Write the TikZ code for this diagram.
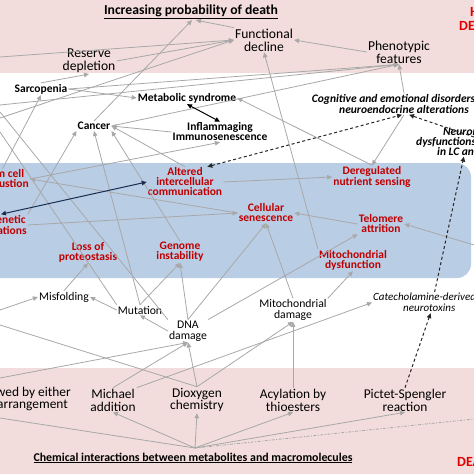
\documentclass[tikz,border=0pt]{standalone}
\usepackage{fontspec}
\setmainfont{Carlito}
\usetikzlibrary{arrows.meta}
\definecolor{pinkbg}{RGB}{242,221,220}
\definecolor{bluebg}{RGB}{185,205,229}
\definecolor{hred}{RGB}{192,0,0}
\definecolor{hredb}{RGB}{225,0,0}
\definecolor{lgray}{RGB}{168,168,168}
\definecolor{navy}{RGB}{25,45,80}
\begin{document}
\begin{tikzpicture}[x=1pt,y=-1pt,
  lab/.style={font=\fontsize{13.6}{12.8}\selectfont,align=center,inner sep=1pt},
  labb/.style={font=\fontsize{13.4}{12.8}\selectfont,align=center,inner sep=1pt},
  sm/.style={font=\fontsize{11.7}{11}\selectfont,align=center,inner sep=1pt},
  bk/.style={font=\bfseries\fontsize{11.5}{10}\selectfont,align=center,inner sep=1pt},
  rd/.style={bk,text=hred},
  bki/.style={font=\bfseries\itshape\fontsize{11.5}{10}\selectfont,inner sep=1pt},
  bigred/.style={font=\bfseries\fontsize{14}{13}\selectfont,text=hredb,anchor=west,inner sep=0pt},
  gl/.style={lgray,line width=0.8pt,-{Triangle[length=5pt,width=4.5pt]}},
  gn/.style={lgray,line width=0.8pt},
  bl/.style={line width=1pt,{Triangle[length=5pt,width=4.5pt]}-{Triangle[length=5pt,width=4.5pt]}},
  dsh/.style={black!85,line width=1pt,dash pattern=on 3pt off 2.5pt,-{Triangle[length=5pt,width=4.5pt]}},
  dd/.style={lgray,line width=0.8pt,dash pattern=on 3pt off 1.5pt on 1pt off 1.5pt}]
\begin{scope}
\clip (0,0) rectangle (474,474);
\fill[pinkbg] (0,0) rectangle (474,73);
\fill[pinkbg] (0,368) rectangle (474,474);
\fill[bluebg,rounded corners=14pt] (-20,163) rectangle (471,278);

% top band
\node[bk,font=\bfseries\fontsize{13.7}{14}\selectfont] (title) at (191,12) {\underline{Increasing probability of death}};
\node[lab] (RD) at (89,61) {Reserve\\depletion};
\node[lab] (FD) at (264,40) {Functional\\decline};
\node[lab] (PF) at (399,52) {Phenotypic\\features};
\node[bigred] (rtop) at (470,12) {HIGH};
\node[bigred] (rde) at (459,26) {DEATH};

% upper white
\node[bk] (Sarc) at (41,89) {Sarcopenia};
\node[bk] (MetS) at (187,98) {Metabolic syndrome};
\node[bki,align=center] (Cog) at (404,104) {Cognitive and emotional disorders and\\neuroendocrine alterations};
\node[bki,align=left,anchor=north west] (Neuro) at (415,126) {\hspace*{27pt}Neuronal\\dysfunctions\\\hspace*{21pt}in LC and SN};
\node[bk] (Cancer) at (94,126) {Cancer};
\node[bk] (Infl) at (220,132) {Inflammaging\\Immunosenescence};

% blue band
\node[rd] (Stem) at (2.5,179) {Stem cell\\exhaustion};
\node[rd] (Epi) at (1,225) {Epigenetic\\alterations};
\node[rd] (Alt) at (185,182) {Altered\\intercellular\\communication};
\node[rd] (DNS) at (372,177) {Deregulated\\nutrient sensing};
\node[rd] (Cell) at (266,213) {Cellular\\senescence};
\node[rd] (Telo) at (381,224) {Telomere\\attrition};
\node[rd] (Loss) at (88,252) {Loss of\\proteostasis};
\node[rd] (Gen) at (180,252) {Genome\\instability};
\node[rd] (MDys) at (353,260) {Mitochondrial\\dysfunction};

% lower white
\node[sm] (Misf) at (64,297) {Misfolding};
\node[sm] (Mut) at (140,310) {Mutation};
\node[sm] (DNA) at (188,331) {DNA\\damage};
\node[sm] (MDmg) at (293,310) {Mitochondrial\\damage};
\node[sm,font=\itshape\fontsize{11}{11}\selectfont,align=left,anchor=north west] (Cat) at (372,292) {Catecholamine-derived\\\hspace*{30pt}neurotoxins};

% bottom band
\node[labb,align=right,anchor=east] (Gly) at (72,399) {Glycation followed by either\\Amadori rearrangement\hspace*{3pt}};
\node[labb] (Mich) at (113,400) {Michael\\addition};
\node[labb] (Diox) at (197,400) {Dioxygen\\chemistry};
\node[labb] (Acyl) at (293,400) {Acylation by\\thioesters};
\node[labb] (Pict) at (405,400) {Pictet-Spengler\\reaction};
\node[bk,font=\bfseries\fontsize{11.9}{13}\selectfont] (Chem) at (193,458) {\underline{Chemical interactions between metabolites and macromolecules}};
\node[bigred] (bde) at (457,462) {DEATH};

\coordinate (H) at (195,448);
\coordinate (e1) at (0,57);
\coordinate (e6) at (0,118);
\coordinate (e15) at (0,105);
\coordinate (e27) at (474,245);
\coordinate (e37) at (0,310);
\coordinate (e38) at (0,112);
\coordinate (e39) at (0,132);
\coordinate (e40) at (0,378);
\coordinate (e44) at (0,325);
\coordinate (e47) at (0,418);
\coordinate (e48) at (474,419);
\coordinate (ed2) at (474,137);

% grey connectors
\draw[gl] (e1) -- (FD.west);
\draw[gl] (RD.east) -- (FD.west);
\draw[gl] (Sarc.north) -- (RD.south);
\draw[gl] (Sarc.east) -- (MetS.west);
\draw[gl] (Sarc.east) -- (PF.south);
\draw[gl] (e6) -- (FD.west);
\draw[gl] (Cancer.north) -- ([xshift=1pt]title.south);
\draw[gl] (FD.north west) -- ([xshift=5pt]title.south);
\draw[gl] (PF.west) -- (FD.east);
\draw[gl] (MDys.north west) -- (FD.south);
\draw[gl] (Cog.north) -- (PF.south);
\draw[gl] (DNS.north) -- (MetS.east);
\draw[gl] (Cog.south) -- (DNS.north);
\draw[gl] (Stem.north) -- (Sarc.south);
\draw[gl] (e15) -- (PF.south);
\draw[gl] (Cancer.east) -- (PF.south);
\draw[gl] (Mut.north) -- (Cancer.south);
\draw[gl] (Gen.north) -- (Cancer.south east);
\draw[gl] (Epi.north east) -- (Cancer.south west);
\draw[gl] (Infl.west) -- (Cancer.east);
\draw[gl] (Alt.north) -- (Cancer.east);
\draw[gl] (Cell.west) -- (Stem.east);
\draw[gl] (Stem.east) -- (Infl.south);
\draw[gl] (Alt.east) -- (DNS.west);
\draw[gl] (Epi.east) -- (Cell.west);
\draw[gl] (Telo.west) -- (Cell.east);
\draw[gl] (e27) -- (Telo.east);
\draw[gl] (MDmg.north) -- (Cell.south);
\draw[gl] (DNA.north) -- (Cell.south);
\draw[gl] (MDmg.north east) -- (MDys.south);
\draw[gl] (DNA.north east) -- (Telo.south west);
\draw[gl] (Misf.north) -- (Loss.south);
\draw[gl] (Mut.north) -- (Gen.south);
\draw[gl] (DNA.north) -- (Gen.south);
\draw[gl] (Mut.west) -- (Misf.east);
\draw[gl] (DNA.west) -- (Mut.south);
\draw[gl] (e37) -- (Misf.west);
\draw[gn] (DNA.north west) -- (e38);
\draw[gn] (Mut.north west) -- (e39);
\draw[gl] (e40) -- (DNA.south);
\draw[gl] (Mich.north) -- (DNA.south);
\draw[gl] (Diox.north) -- (DNA.south);
\draw[gl] (Diox.north) -- (MDmg.south);
\draw[gn] (Diox.north) -- (e44);
\draw[gl] (Mich.north east) -- (Cat.west);
\draw[gl] (Acyl.north) -- (MDmg.south);
\draw[gl] (H) -- (Mich.south);
\draw[gl] (H) -- (Diox.south);
\draw[gl] (H) -- (Acyl.south);
\draw[gl] (H) -- (Pict.south);
\draw[gn] (H) -- (e47);
\draw[dd] (H) -- (e48);

% black connectors
\draw[bl] (MetS.south) -- (Infl.north);
\draw[bl,navy] (Epi.north) -- (Alt.west);
\draw[dsh,{Triangle[length=5pt,width=4.5pt]}-{Triangle[length=5pt,width=4.5pt]}] ([xshift=-16pt]Alt.north east) -- ([xshift=-2pt]Cog.south);
\draw[dsh] (ed2) -- ([xshift=5pt]Cog.south);
\draw[dsh] (Pict.north) -- ([xshift=6pt]Cat.south);
\draw[dsh] ([xshift=10pt]Cat.north) -- ([xshift=8pt]Neuro.south);
\end{scope}
\pgfresetboundingbox
\useasboundingbox (0,0) rectangle (474,474);
\end{tikzpicture}
\end{document}
